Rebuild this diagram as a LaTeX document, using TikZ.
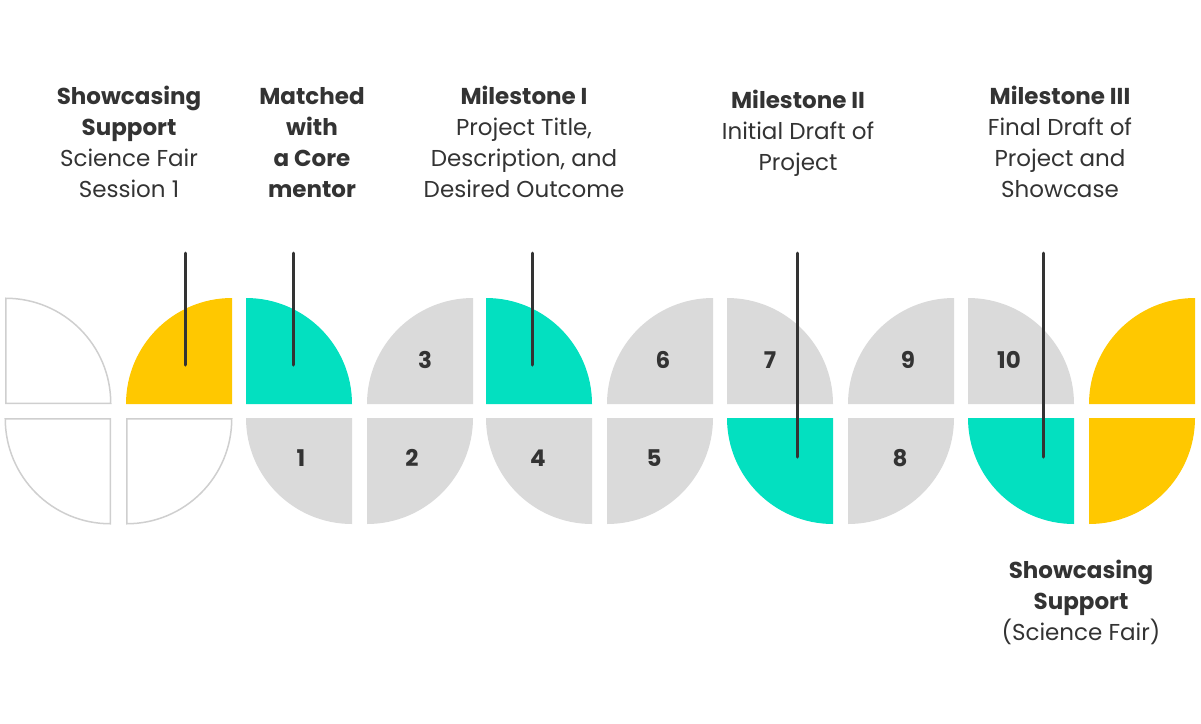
\documentclass[tikz,border=0pt]{standalone}
\usepackage{fontspec}
\setmainfont{Poppins}
\usetikzlibrary{positioning}
\definecolor{sunny}{HTML}{FFC800}
\definecolor{mint}{HTML}{03E0C0}
\definecolor{cloud}{HTML}{DADADA}
\definecolor{rim}{HTML}{CFCFCF}
\definecolor{ink}{HTML}{333333}

\begin{document}
\begin{tikzpicture}[
      x=1pt,y=-1pt,
      every node/.style={text=ink,inner sep=0pt},
      head/.style={align=center,anchor=north,font=\fontsize{23}{31}\selectfont},
      num/.style={font=\fontsize{23}{25}\selectfont\bfseries},
      blank/.style={draw=rim,line width=1.5pt,fill=white},
      tick/.style={draw=ink,line width=3pt,line cap=round}
    ]
    \useasboundingbox (0,0) rectangle (1201,723);
    % upper row of quarters: corner, start angle, colour
    \foreach \cx/\st/\col in {232/90/sunny,246/0/mint,473/90/cloud,
        486/0/mint,713/90/cloud,727/0/cloud,954/90/cloud,
        968/0/cloud,1195/90/sunny}
      \fill[\col] (\cx,404) -- ++(\st:106pt) arc[start angle=\st,delta angle=90,radius=106pt] -- cycle;
    \path[blank] (5.75,403.25) -- ++(0:105pt) arc[start angle=0,delta angle=90,radius=105pt] -- cycle;
    % lower row of quarters
    \foreach \cx/\st/\col in {352/180/cloud,367/270/cloud,592/180/cloud,
        607/270/cloud,833/180/mint,848/270/cloud,1074/180/mint,
        1089/270/sunny}
      \fill[\col] (\cx,418) -- ++(\st:106pt) arc[start angle=\st,delta angle=90,radius=106pt] -- cycle;
    \path[blank] (110.25,418.75) -- ++(180:105pt) arc[start angle=180,delta angle=90,radius=105pt] -- cycle;
    \path[blank] (126.75,418.75) -- ++(270:105pt) arc[start angle=270,delta angle=90,radius=105pt] -- cycle;
    % session numbers
    \node[num] (n1) at (301,458) {1};
    \node[num] (n2) at (412,458) {2};
    \node[num] (n3) at (425,360) {3};
    \node[num] (n4) at (538,458) {4};
    \node[num] (n5) at (654,458) {5};
    \node[num] (n6) at (663,360) {6};
    \node[num] (n7) at (770,360) {7};
    \node[num] (n8) at (900,458) {8};
    \node[num] (n9) at (908,360) {9};
    \node[num] (n10) at (1009,360) {10};
    % captions
    \node[head] (kick) at (129,86) {\textbf{Showcasing}\\\textbf{Support}\\Science Fair\\Session 1};
    \node[head] (match) at (312,87) {\textbf{Matched}\\\textbf{with}\\\textbf{a Core}\\\textbf{mentor}};
    \node[head] (ms1) at (524,86) {\textbf{Milestone I}\\Project Title,\\Description, and\\Desired Outcome};
    \node[head] (ms2) at (798,90) {\textbf{Milestone II}\\Initial Draft of\\Project};
    \node[head] (ms3) at (1060,86) {\textbf{Milestone III}\\Final Draft of\\Project and\\Showcase};
    \node[head] (fair) at (1081,560) {\textbf{Showcasing}\\\textbf{Support}\\(Science Fair)};
    % pointers
    \coordinate (p1a) at (185,253); \coordinate (p1b) at (185,365);
    \coordinate (p2a) at (293,253); \coordinate (p2b) at (293,365);
    \coordinate (p3a) at (532,253); \coordinate (p3b) at (532,365);
    \coordinate (p4a) at (797,253); \coordinate (p4b) at (797,457);
    \coordinate (p5a) at (1043,253); \coordinate (p5b) at (1043,457);
    \draw[tick] (p1a) -- (p1b);
    \draw[tick] (p2a) -- (p2b);
    \draw[tick] (p3a) -- (p3b);
    \draw[tick] (p4a) -- (p4b);
    \draw[tick] (p5a) -- (p5b);
  \end{tikzpicture}
\end{document}
